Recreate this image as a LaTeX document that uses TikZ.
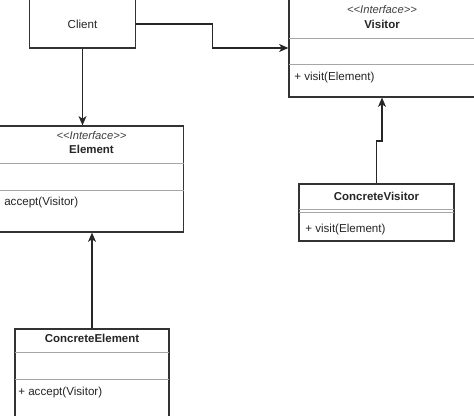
\documentclass[tikz,border=0pt]{standalone}
\usepackage{fontspec}
\setmainfont{Liberation Sans}
\usetikzlibrary{arrows.meta,fit}
\begin{document}
\begin{tikzpicture}[x=0.75pt,y=-0.75pt,
  frame/.style={draw=black!80, line width=0.9pt, inner sep=0pt},
  divider/.style={draw=black!35, line width=0.6pt},
  txt/.style={font=\fontsize{8.7}{10}\selectfont, inner sep=0pt, text=black!85},
  cname/.style={txt, font=\fontsize{8.6}{10}\selectfont\bfseries},
  stereo/.style={txt, font=\fontsize{8.4}{10}\selectfont\itshape, text=black!75},
  conn/.style={draw=black!85, line width=0.9pt, -{Stealth[length=7pt,width=6pt,inset=2pt]}}]
\useasboundingbox (0,0) rectangle (474,416);
\clip (0,0) rectangle (474,416);
\fill[white] (0,0) rectangle (474,416);

% Client
\node[frame, fit={(29.5,-1) (135.5,48)}] (client) {};
\node[txt] (clientlbl) at (82.5,24) {Client};

% Visitor
\node[frame, fit={(289,-1) (475,97)}] (visitor) {};
\node[stereo] (vist) at (382,10) {{<}{<}Interface{>}{>}};
\node[cname] (visname) at (382,24.5) {Visitor};
\draw[divider] (289,38) -- (475,38);
\draw[divider] (289,64) -- (475,64);
\node[txt, anchor=west] (visop) at (294,77.5) {+ visit(Element)};

% Element
\node[frame, fit={(-1,126) (183.5,232)}] (element) {};
\node[stereo] (elst) at (91.5,136) {{<}{<}Interface{>}{>}};
\node[cname] (elname) at (91.5,149.5) {Element};
\draw[divider] (-1,163) -- (183.5,163);
\draw[divider] (-1,190) -- (183.5,190);
\node[txt, anchor=west] (elop) at (4,202.5) {accept(Visitor)};

% ConcreteVisitor
\node[frame, fit={(299,184) (454,241)}] (cv) {};
\node[cname] (cvname) at (376.5,196.5) {ConcreteVisitor};
\draw[divider] (299,209.5) -- (454,209.5);
\draw[divider] (299,212.5) -- (454,212.5);
\node[txt, anchor=west] (cvop) at (305,229.5) {+ visit(Element)};

% ConcreteElement
\node[frame, fit={(15,329) (169,430)}] (ce) {};
\node[cname] (cename) at (92,338.5) {ConcreteElement};
\draw[divider] (15,352) -- (169,352);
\draw[divider] (15,379) -- (169,379);
\node[txt, anchor=west] (ceop) at (18,392.5) {+ accept(Visitor)};

% Connectors
\coordinate (bend1) at (212.5,48);
\draw[conn] (client.east |- 0,24) -| (bend1) -- (visitor.west);
\draw[conn] (client.south) -- (client.south |- element.north);
\draw[conn] (ce.north) -- (ce.north |- element.south);
\coordinate (jog) at (376.5,141);
\draw[conn] (cv.north) -- (jog) -| (visitor.south);
\end{tikzpicture}
\end{document}
